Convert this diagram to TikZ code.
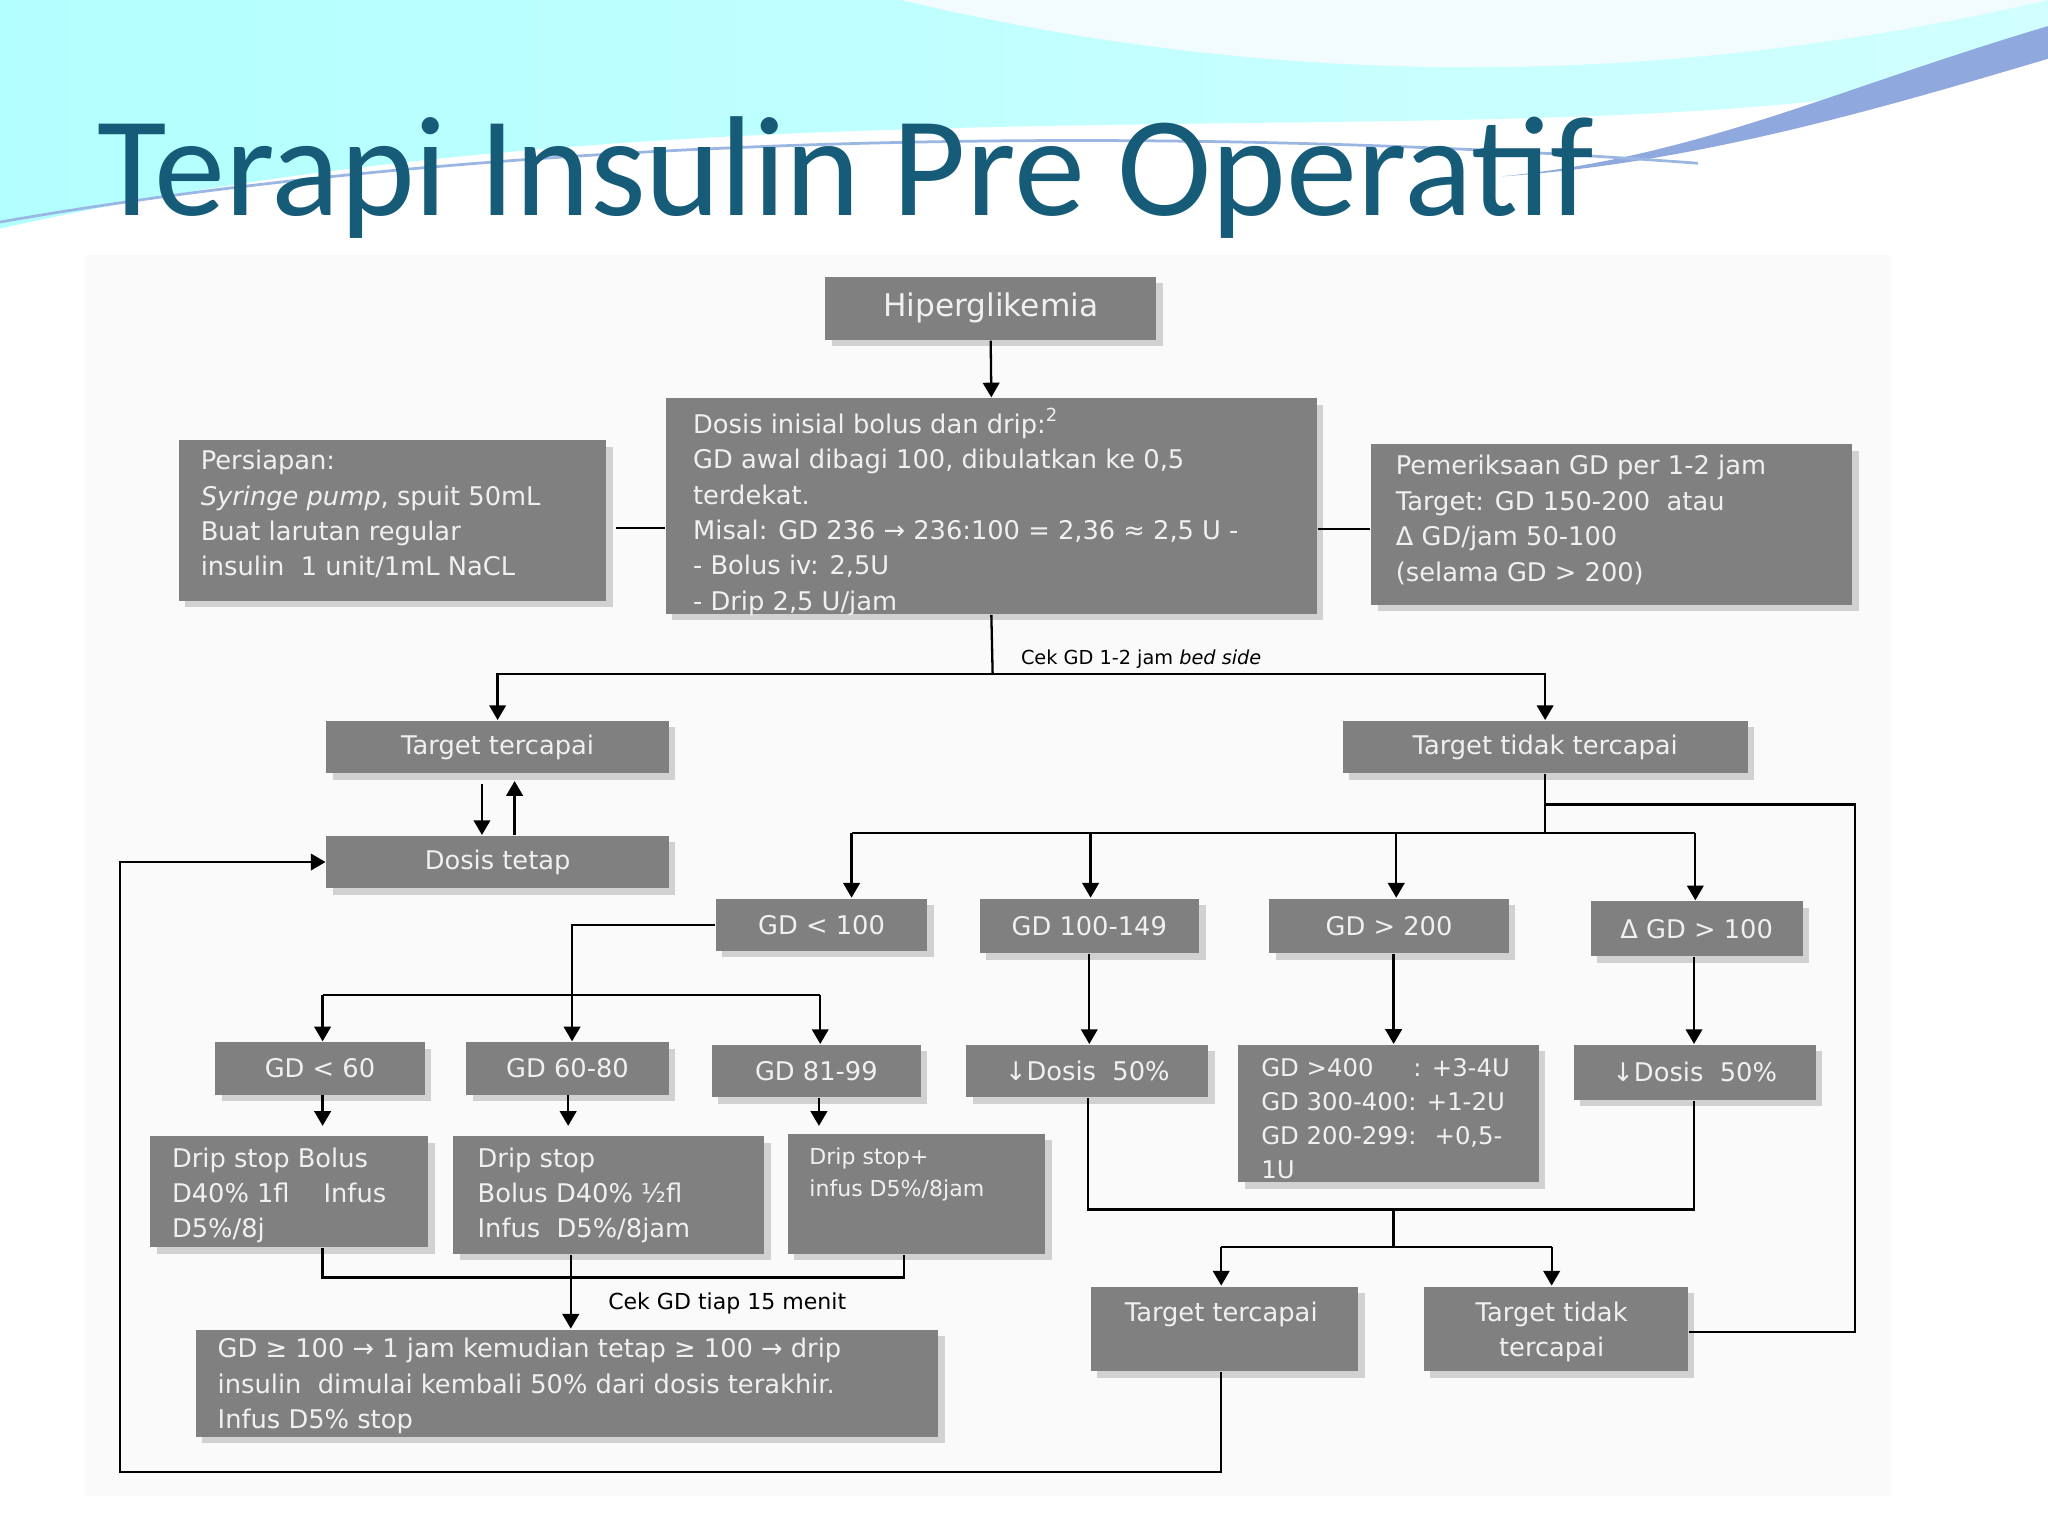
\documentclass[tikz,border=0pt]{standalone}
\usepackage{fontspec}
\setmainfont{DejaVu Sans}
\newfontfamily\titlefont{Carlito}
\usetikzlibrary{arrows.meta,shadows}
\definecolor{boxgray}{RGB}{128,128,128}
\definecolor{titleblue}{RGB}{22,92,120}
\definecolor{paper}{RGB}{250,250,250}
\tikzset{
  bx/.style={fill=boxgray, draw=none, inner sep=0pt, text=white!94!black,
    font=\fontsize{5.6}{7.7}\selectfont,
    drop shadow={shadow xshift=0.05cm, shadow yshift=-0.05cm, fill=black!18, opacity=1}},
  bxt/.style={text=white!94!black, font=\fontsize{5.6}{7.7}\selectfont, align=left, inner sep=0pt},
  ln/.style={line width=0.5pt, black},
  ar/.style={line width=0.5pt, black, -{Triangle[length=3.2pt,width=3.6pt]}},
  lbl/.style={font=\fontsize{4.2}{5}\selectfont, text=black, inner sep=0pt}
}
\begin{document}
\begin{tikzpicture}[x=0.01cm,y=-0.01cm]
\useasboundingbox (0,0) rectangle (1568,1176);
\fill[white] (0,0) rectangle (1568,1176);
% top wave
\shade[left color=cyan!30!white, right color=cyan!18!white] (0,0) -- (1568,0) -- (1568,45) .. controls (1250,140) and (600,40) .. (0,175) -- cycle;
\fill[white!95!cyan] (690,0) .. controls (900,50) and (1200,85) .. (1568,0) -- cycle;
\fill[cyan!45!blue!45!white] (1568,20) .. controls (1400,70) and (1300,120) .. (1150,135) .. controls (1300,125) and (1450,80) .. (1568,45) -- cycle;
\draw[cyan!50!blue!40!white, line width=0.6pt] (0,170) .. controls (400,100) and (900,95) .. (1300,125);
% panel
\fill[paper] (65,195) rectangle (1448,1145);
% title
\node[anchor=base west, text=titleblue, font=\titlefont\fontsize{31}{34}\selectfont, inner sep=0pt] (title) at (74,165) {Terapi Insulin Pre Operatif};

% boxes
\node[bx, minimum width=2.53cm, minimum height=0.48cm, font=\fontsize{6.8}{8}\selectfont] (hip) at (758.5,236) {Hiperglikemia};
\node[bx, minimum width=4.98cm, minimum height=1.65cm] (dos) at (759,387.5) {};
\node[bxt, anchor=north west] (dost) at (530,312) {Dosis inisial bolus dan drip:\textsuperscript{2}\\GD awal dibagi 100, dibulatkan ke 0,5\\terdekat.\\Misal: GD 236 → 236:100 = 2,36 ≈ 2,5 U -\\- Bolus iv: 2,5U\\- Drip 2,5 U/jam};
\node[bx, minimum width=3.27cm, minimum height=1.23cm] (per) at (300.5,398.5) {};
\node[bxt, anchor=north west] (pert) at (153,344) {Persiapan:\\\textit{Syringe pump}, spuit 50mL\\Buat larutan regular\\insulin \ 1 unit/1mL NaCL};
\node[bx, minimum width=3.68cm, minimum height=1.23cm] (pem) at (1234,401.5) {};
\node[bxt, anchor=north west] (pemt) at (1068,348) {Pemeriksaan GD per 1-2 jam\\Target: GD 150-200 \ atau\\Δ GD/jam 50-100\\(selama GD > 200)};

\node[bx, minimum width=2.62cm, minimum height=0.40cm] (ttl) at (381,572) {Target tercapai};
\node[bx, minimum width=3.10cm, minimum height=0.40cm] (ttr) at (1183,572) {Target tidak tercapai};
\node[bx, minimum width=2.62cm, minimum height=0.40cm] (dt) at (381,660) {Dosis tetap};

\node[bx, minimum width=1.62cm, minimum height=0.40cm] (g100) at (629,708) {GD < 100};
\node[bx, minimum width=1.68cm, minimum height=0.42cm] (g149) at (834,709) {GD 100-149};
\node[bx, minimum width=1.83cm, minimum height=0.42cm] (g200) at (1063.5,709) {GD > 200};
\node[bx, minimum width=1.62cm, minimum height=0.42cm] (dg) at (1299,711) {Δ GD > 100};

\node[bx, minimum width=1.60cm, minimum height=0.40cm] (g60) at (245,818) {GD < 60};
\node[bx, minimum width=1.55cm, minimum height=0.40cm] (g80) at (434.5,818) {GD 60-80};
\node[bx, minimum width=1.60cm, minimum height=0.40cm] (g99) at (625,820) {GD 81-99};
\node[bx, minimum width=1.85cm, minimum height=0.40cm] (d50a) at (832.5,820) {↓Dosis \ 50\%};
\node[bx, minimum width=2.30cm, minimum height=1.05cm] (g400) at (1063,852.5) {};
\node[bxt, anchor=north west, font=\fontsize{5.3}{7.4}\selectfont] (g400t) at (965,810) {GD >400 \quad\ : +3-4U\\GD 300-400: +1-2U\\GD 200-299: \ +0,5-\\1U};
\node[bx, minimum width=1.85cm, minimum height=0.42cm] (d50b) at (1297.5,821) {↓Dosis \ 50\%};

\node[bx, minimum width=2.13cm, minimum height=0.85cm] (ds1) at (221.5,912.5) {};
\node[bxt, anchor=north west] (ds1t) at (131,878) {Drip stop Bolus\\D40\% 1fl \quad Infus\\D5\%/8j};
\node[bx, minimum width=2.38cm, minimum height=0.90cm] (ds2) at (466,915) {};
\node[bxt, anchor=north west] (ds2t) at (365,878) {Drip stop\\Bolus D40\% ½fl\\Infus \ D5\%/8jam};
\node[bx, minimum width=1.97cm, minimum height=0.92cm] (ds3) at (701.5,914) {};
\node[bxt, anchor=north west, font=\fontsize{4.8}{6.9}\selectfont] (ds3t) at (619,878) {Drip stop+\\infus D5\%/8jam};

\node[bx, minimum width=5.68cm, minimum height=0.82cm] (gd) at (434,1059) {};
\node[bxt, anchor=north west] (gdt) at (166,1024) {GD ≥ 100 → 1 jam kemudian tetap ≥ 100 → drip\\insulin \ dimulai kembali 50\% dari dosis terakhir.\\Infus D5\% stop};
\node[bx, minimum width=2.05cm, minimum height=0.65cm] (tt2) at (937.5,1017.5) {};
\node[bxt, anchor=north] (tt2t) at (935,996) {Target tercapai};
\node[bx, minimum width=2.02cm, minimum height=0.65cm] (tn2) at (1191,1017.5) {};
\node[bxt, anchor=north, align=center] (tn2t) at (1188,996) {Target tidak\\tercapai};

% connectors
\draw[ar] (hip.south) -- (dos.north);
\draw[ln] (472,404) -- (dos.west |- 472,404);
\draw[ln] (dos.east |- 1015,405) -- (pem.west |- 1015,405);
\coordinate (j1) at (760,516);
\draw[ln] (dos.south) -- (j1);
\draw[ar] (j1) -| (ttl.north);
\draw[ar] (j1) -| (ttr.north);
\node[lbl, anchor=west] (cek1) at (781,505) {Cek GD 1-2 jam \textit{bed side}};
\draw[ar] (369,600) -- (dt.north -| 369,600);
\draw[ar] (dt.north -| 394,640) -- (394,598);
\coordinate (j2) at (1183,638);
\draw[ln] (ttr.south) -- (j2);
\draw[ln] (j2) -- (652,638);
\draw[ln] (j2) -- (1298,638);
\draw[ar] (652,638) -- (g100.north -| 652,638);
\draw[ar] (835,638) -- (g149.north -| 835,638);
\draw[ar] (1069,638) -- (g200.north -| 1069,638);
\draw[ar] (1298,638) -- (dg.north -| 1298,638);
\draw[ln] (1183,616) -- (1420,616) -- (1420,1020) -- (tn2.east |- 1420,1020);
\coordinate (j3) at (438,762);
\draw[ln] (g100.west) -| (j3);
\draw[ln] (247,762) -- (628,762);
\draw[ar] (247,762) -- (g60.north -| 247,762);
\draw[ar] (j3) -- (g80.north -| 438,762);
\draw[ar] (628,762) -- (g99.north -| 628,762);
\draw[ar] (g60.south -| 247,838) -- (247,862);
\draw[ar] (g80.south -| 435,838) -- (435,862);
\draw[ar] (g99.south -| 627,840) -- (627,862);
\draw[ln] (ds1.south -| 247,955) -- (247,978) -- (692,978) -- (ds3.south -| 692,978);
\draw[ar] (ds2.south -| 437,960) -- (gd.north -| 437,960);
\node[lbl, anchor=west, font=\fontsize{4.8}{6}\selectfont] (cek2) at (465,998) {Cek GD tiap 15 menit};
\draw[ar] (g149.south -| 834,730) -- (d50a.north -| 834,730);
\draw[ar] (g200.south -| 1067,730) -- (g400.north -| 1067,730);
\draw[ar] (dg.south -| 1297,732) -- (d50b.north -| 1297,732);
\draw[ln] (d50a.south -| 833,840) -- (833,926) -- (1297,926) -- (d50b.south -| 1297,926);
\coordinate (j4) at (1067,955);
\draw[ln] (1067,926) -- (j4);
\draw[ln] (935,955) -- (1188,955);
\draw[ar] (935,955) -- (tt2.north -| 935,955);
\draw[ar] (1188,955) -- (tn2.north -| 1188,955);
\draw[ar] (tt2.south -| 935,1050) -- (935,1127) -- (92,1127) -- (92,660) -- (dt.west);
\end{tikzpicture}
\end{document}
